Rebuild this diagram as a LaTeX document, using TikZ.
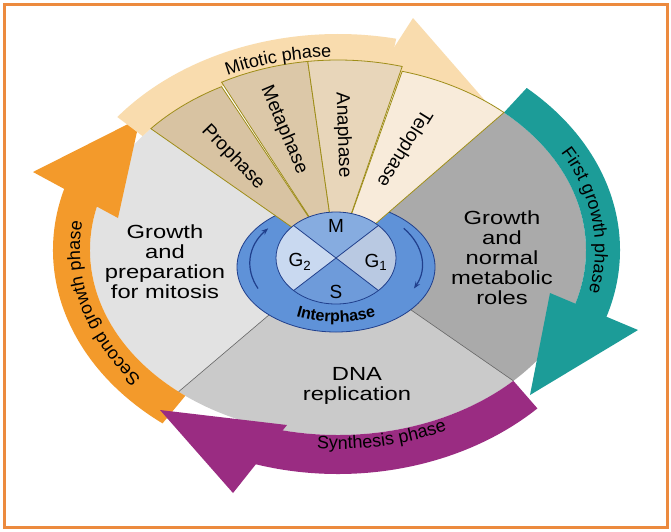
\documentclass[tikz,border=0pt]{standalone}
\usepackage{fontspec}
\setmainfont{Liberation Sans}
\usetikzlibrary{decorations.text,arrows.meta,calc}
\definecolor{bord}{HTML}{EC8A3E}
\definecolor{orng}{HTML}{F39A2B}
\definecolor{teal}{HTML}{1C9C98}
\definecolor{purp}{HTML}{9A2C82}
\definecolor{peach}{HTML}{F9DCAE}
\definecolor{wedA}{HTML}{D8C3A2}
\definecolor{wedB}{HTML}{DCC8A8}
\definecolor{wedC}{HTML}{E8D6BA}
\definecolor{wedD}{HTML}{F8EBDA}
\definecolor{grL}{HTML}{E2E2E2}
\definecolor{grM}{HTML}{CACACA}
\definecolor{grD}{HTML}{AAAAAA}
\definecolor{ring}{HTML}{5F92D8}
\definecolor{dblue}{HTML}{203F8C}
\definecolor{qM}{HTML}{86ACE0}
\definecolor{qG}{HTML}{C9D9F0}
\definecolor{qGa}{HTML}{B9C9E2}
\definecolor{qS}{HTML}{6E9BDA}
\newcommand\wdx[1]{\scalebox{1.25}[1]{#1}}
\tikzset{
  sector/.style={draw=black!60, line width=0.6pt},
  wedge/.style={draw=olive!70!brown, line width=0.8pt},
  lbl/.style={align=center, font=\fontsize{19}{20}\selectfont},
  wl/.style={font=\fontsize{19}{19}\selectfont},
  band/.style={postaction={decorate}, decoration={text along path, text align=center}},
}
\begin{document}
\begin{tikzpicture}[x=1pt,y=-1pt]
\useasboundingbox (0,0) rectangle (671,531);
\fill[white] (0,0) rectangle (671,531);
\draw[bord, line width=3pt] (4,4) rectangle (667,527);
\coordinate (C) at (338,250);
\coordinate (D) at (336,258);
% sectors
\fill[grL] (D) -- ($(C)+(130:248 and 185)$) arc[start angle=130,end angle=221,x radius=248,y radius=185] -- cycle;
\fill[grM] (D) -- ($(C)+(45:248 and 185)$) arc[start angle=45,end angle=130,x radius=248,y radius=185] -- cycle;
\fill[grD] (D) -- ($(C)+(-48:248 and 185)$) arc[start angle=-48,end angle=45,x radius=248,y radius=185] -- cycle;
\draw[sector] (D) -- ($(C)+(130:248 and 185)$);
\draw[sector] (D) -- ($(C)+(45:248 and 185)$);
% arrows
\fill[orng] ($(C)+(128:248 and 185)$) arc[start angle=128,end angle=200,x radius=248,y radius=185]
  -- ($(C)+(200:285 and 220)$) arc[start angle=200,end angle=128,x radius=285,y radius=220] -- cycle;
\fill[orng] (118,218) -- (140,118) -- (33,172) -- cycle;
\fill[teal] ($(C)+(-48:248 and 185)$) arc[start angle=-48,end angle=22,x radius=248,y radius=185]
  -- ($(C)+(22:282 and 218)$) arc[start angle=22,end angle=-48,x radius=282,y radius=218] -- cycle;
\fill[teal] (550,293) -- (638,330) -- (530,395) -- cycle;
\fill[purp] ($(C)+(45:248 and 185)$) arc[start angle=45,end angle=112,x radius=248,y radius=185]
  -- ($(C)+(112:282 and 224)$) arc[start angle=112,end angle=45,x radius=282,y radius=224] -- cycle;
\fill[purp] (287,425) -- (160,410) -- (233,493) -- cycle;
\fill[peach] ($(C)+(218:248 and 185)$) arc[start angle=218,end angle=282,x radius=248,y radius=185]
  -- ($(C)+(282:280 and 216)$) arc[start angle=282,end angle=218,x radius=280,y radius=216] -- cycle;
\fill[peach] (413,18) -- (488,104) -- (368,88) -- cycle;
% ring
\fill[ring, draw=dblue, line width=0.8pt] (336,267) ellipse[x radius=99,y radius=65];
\draw[dblue, line width=1.2pt, -{Stealth[length=7pt]}] ($(336,264)+(155:86 and 58)$) arc[start angle=155,end angle=218,x radius=86,y radius=58];
\draw[dblue, line width=1.2pt, -{Stealth[length=7pt]}] ($(336,264)+(-38:86 and 58)$) arc[start angle=-38,end angle=25,x radius=86,y radius=58];
% wedges
\filldraw[wedge, fill=wedA] (D) -- ($(C)+(221:248 and 185)$) arc[start angle=221,end angle=242,x radius=248,y radius=185] -- cycle;
\filldraw[wedge, fill=wedB] (D) -- ($(C)+(242:248 and 190)$) arc[start angle=242,end angle=263,x radius=248,y radius=190] -- cycle;
\filldraw[wedge, fill=wedC] (D) -- ($(C)+(263:248 and 190)$) arc[start angle=263,end angle=285,x radius=248,y radius=190] -- cycle;
\filldraw[wedge, fill=wedD] (D) -- ($(C)+(285:248 and 185)$) arc[start angle=285,end angle=312,x radius=248,y radius=185] -- cycle;
% disc
\fill[qM] (D) -- ($(D)+(225:60 and 46)$) arc[start angle=225,end angle=315,x radius=60,y radius=46] -- cycle;
\fill[qGa] (D) -- ($(D)+(-45:60 and 46)$) arc[start angle=-45,end angle=45,x radius=60,y radius=46] -- cycle;
\fill[qS] (D) -- ($(D)+(45:60 and 46)$) arc[start angle=45,end angle=135,x radius=60,y radius=46] -- cycle;
\fill[qG] (D) -- ($(D)+(135:60 and 46)$) arc[start angle=135,end angle=225,x radius=60,y radius=46] -- cycle;
\draw[dblue, line width=0.8pt] (D) ellipse[x radius=60,y radius=46];
\draw[dblue, line width=0.8pt] ($(D)+(225:60 and 46)$) -- ($(D)+(45:60 and 46)$);
\draw[dblue, line width=0.8pt] ($(D)+(135:60 and 46)$) -- ($(D)+(-45:60 and 46)$);
\node[wl] (m) at (336,226) {M};
\node[wl] (g2) at (300,262) {G\textsubscript{2}};
\node[wl] (g1) at (376,262) {G\textsubscript{1}};
\node[wl] (s) at (336,292) {S};
\path[band, decoration={text={|\fontsize{16}{16}\selectfont\bfseries|Interphase}}]
  ($(336,264)+(140:92 and 58)$) arc[start angle=140,end angle=40,x radius=92,y radius=58];
% labels
\node[lbl] (gp) at (165,262) {\wdx{Growth}\\\wdx{and}\\\wdx{preparation}\\\wdx{for mitosis}};
\node[lbl] (gn) at (502,258) {\wdx{Growth}\\\wdx{and}\\\wdx{normal}\\\wdx{metabolic}\\\wdx{roles}};
\node[lbl] (dna) at (357,386) {\wdx{DNA}\\\wdx{replication}};
\node[wl, rotate=-46] (pro) at (233,157) {Prophase};
\node[wl, rotate=-67] (met) at (284,130) {Metaphase};
\node[wl, rotate=-88] (ana) at (343,135) {Anaphase};
\node[wl, rotate=-122] (tel) at (404,148) {Telophase};
\path[band, decoration={text={|\fontsize{18}{18}\selectfont|Mitotic phase}}]
  ($(C)+(228:258 and 193)$) arc[start angle=228,end angle=284,x radius=258,y radius=193];
\path[band, decoration={text={|\fontsize{18}{18}\selectfont|First growth phase}}]
  ($(C)+(-48:257 and 195)$) arc[start angle=-48,end angle=32,x radius=257,y radius=195];
\path[band, decoration={text={|\fontsize{18}{18}\selectfont|Synthesis phase}}]
  ($(C)+(120:258 and 199)$) arc[start angle=120,end angle=38,x radius=258,y radius=199];
\path[band, decoration={text={|\fontsize{18}{18}\selectfont|Second growth phase}}]
  ($(C)+(124:258 and 198)$) arc[start angle=124,end angle=206,x radius=258,y radius=198];
\end{tikzpicture}
\end{document}
